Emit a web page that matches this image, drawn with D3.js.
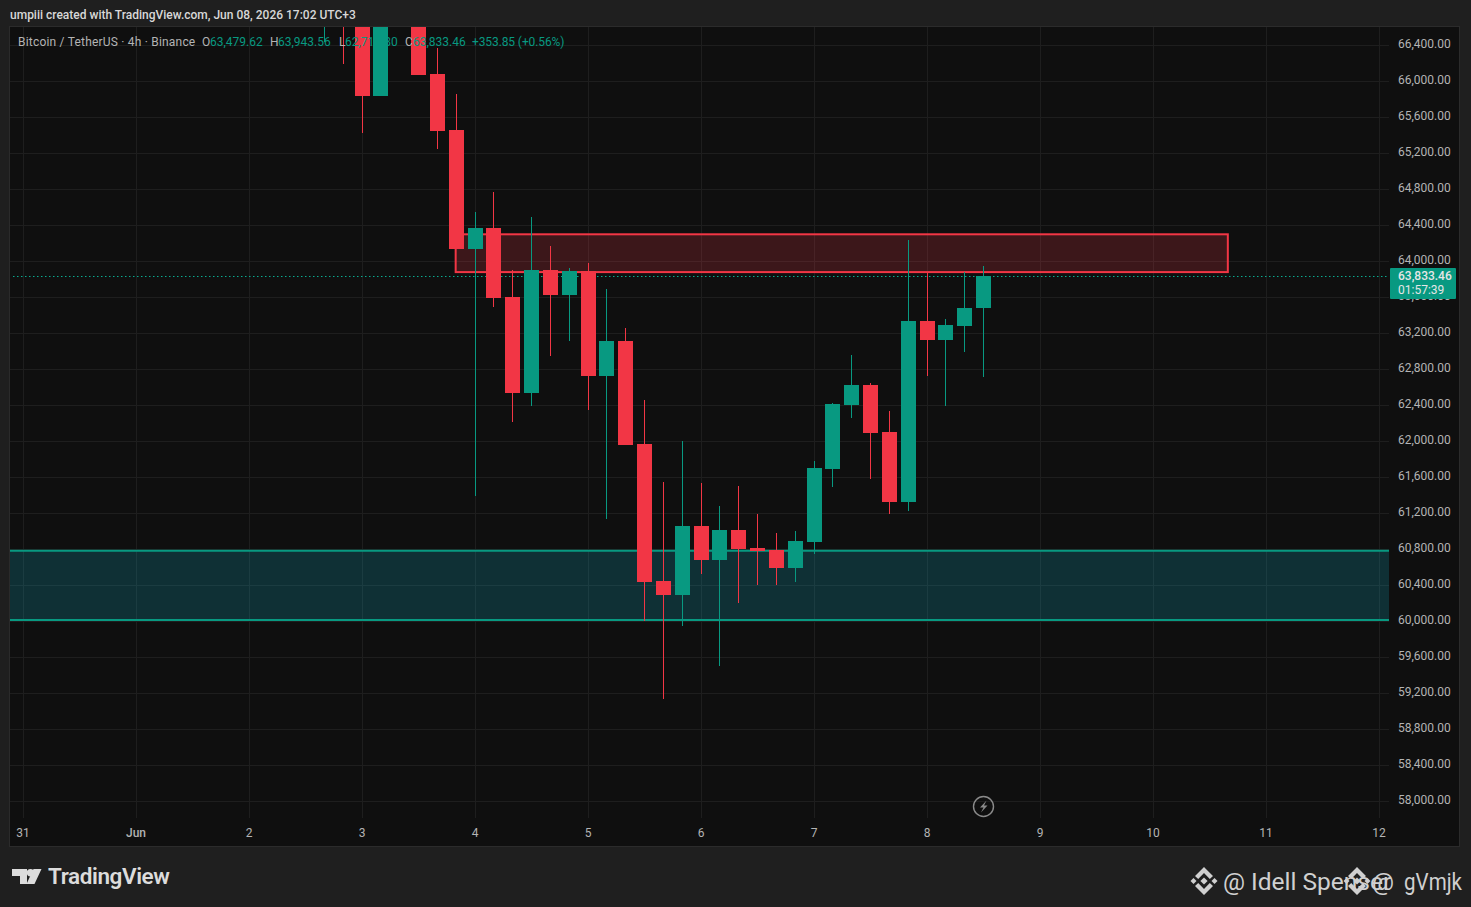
<!DOCTYPE html>
<html>
<head>
<meta charset="utf-8">
<script src="https://cdn.jsdelivr.net/npm/d3@7"></script>
<style>
html, body { margin: 0; padding: 0; background: #1f1f1f; overflow: hidden; }
text { font-family: Roboto, "Open Sans", sans-serif; }
</style>
</head>
<body>
<div id="chart"></div>
<script>
//data
var times = ["2026-06-02 16:00", "2026-06-02 20:00", "2026-06-03 00:00", "2026-06-03 04:00", "2026-06-03 12:00", "2026-06-03 16:00", "2026-06-03 20:00",
    "2026-06-04 00:00", "2026-06-04 04:00", "2026-06-04 08:00", "2026-06-04 12:00", "2026-06-04 16:00", "2026-06-04 20:00",
    "2026-06-05 00:00", "2026-06-05 04:00", "2026-06-05 08:00", "2026-06-05 12:00", "2026-06-05 16:00", "2026-06-05 20:00",
    "2026-06-06 00:00", "2026-06-06 04:00", "2026-06-06 08:00", "2026-06-06 12:00", "2026-06-06 16:00", "2026-06-06 20:00",
    "2026-06-07 00:00", "2026-06-07 04:00", "2026-06-07 08:00", "2026-06-07 12:00", "2026-06-07 16:00", "2026-06-07 20:00",
    "2026-06-08 00:00", "2026-06-08 04:00", "2026-06-08 08:00", "2026-06-08 12:00"];
var opens = [66650, 66800, 66650, 65837, 66750, 66081, 65459,
    64137, 64370, 63603, 62537, 63903, 63626,
    63892, 62726, 63114, 61970, 60448, 60292,
    61059, 60681, 61014, 60814, 60792, 60592,
    60881, 61692, 62403, 62626, 62103, 61326,
    63337, 63126, 63281, 63479.62];
var highs = [66850, 66900, 66700, 66800, 66800, 66370, 65859,
    64548, 64770, 63903, 64492, 64170, 63926,
    63981, 63692, 63259, 62459, 61548, 62003,
    61537, 61281, 61503, 61192, 60981, 61003,
    61781, 62426, 62959, 62648, 62337, 64237,
    63881, 63359, 63881, 63943.56];
var lows = [66437, 66192, 65426, 65837, 66070, 65248, 64137,
    61392, 63492, 62214, 62392, 62948, 63114,
    62348, 61137, 61959, 60003, 59137, 59948,
    60526, 59503, 60203, 60403, 60403, 60437,
    60748, 61492, 62259, 61581, 61192, 61226,
    62726, 62392, 62992, 62718.8];
var closes = [66800, 66650, 65837, 66750, 66070, 65448, 64137,
    64370, 63592, 62537, 63903, 63626, 63892,
    62726, 63114, 61959, 60437, 60292, 61059,
    60681, 61014, 60803, 60781, 60592, 60892,
    61703, 62414, 62626, 62092, 61326, 63337,
    63126, 63292, 63481, 63833.46];

var priceTicks = d3.range(58000, 66401, 400);
var dayTicks = ["2026-05-31 00:00", "2026-06-01 00:00", "2026-06-02 00:00", "2026-06-03 00:00", "2026-06-04 00:00", "2026-06-05 00:00",
    "2026-06-06 00:00", "2026-06-07 00:00", "2026-06-08 00:00", "2026-06-09 00:00", "2026-06-10 00:00", "2026-06-11 00:00", "2026-06-12 00:00"];
var dayLabels = ["31", "Jun", "2", "3", "4", "5", "6", "7", "8", "9", "10", "11", "12"];

var lastPrice = 63833.46;
var resistanceZone = [64300, 63880];
var resistanceTimes = ["2026-06-03 20:00", "2026-06-10 16:00"];
var supportZone = [60785, 60015];

//setup
var width = 1471,
    height = 907,
    up = "#089981",
    down = "#f23645",
    bodyWidth = 15;

var parseTime = d3.timeParse("%Y-%m-%d %H:%M");

var xScale = d3.scaleTime()
    .domain([parseTime(dayTicks[0]), parseTime(dayTicks[12])])
    .range([22.5, 1378.5]);

var yScale = d3.scaleLinear()
    .domain([60000, 66400])
    .range([621.3, 45.3]);

var svg = d3.select("#chart").append("svg")
    .attr("width", width)
    .attr("height", height)
    .style("display", "block");

svg.append("rect").attr("width", width).attr("height", height).attr("fill", "#1f1f1f");

// chart pane
svg.append("rect")
    .attr("x", 10).attr("y", 27)
    .attr("width", 1449).attr("height", 819)
    .attr("fill", "#0f0f0f");
svg.append("rect")
    .attr("x", 9.5).attr("y", 26.5)
    .attr("width", 1450).attr("height", 820)
    .attr("fill", "none")
    .attr("stroke", "#2b2b2b");

svg.append("defs").append("clipPath").attr("id", "pane")
    .append("rect").attr("x", 10).attr("y", 27).attr("width", 1379).attr("height", 819);

// title
svg.append("text")
    .attr("x", 10).attr("y", 19)
    .attr("font-size", 12)
    .attr("font-weight", 500)
    .attr("fill", "#d8d8d8")
    .text("umpiii created with TradingView.com, Jun 08, 2026 17:02 UTC+3");

//grid
var grid = svg.append("g").attr("clip-path", "url(#pane)");
grid.selectAll(".hgrid").data(priceTicks)
    .enter().append("line")
    .attr("x1", 10).attr("x2", 1389)
    .attr("y1", function (d) { return Math.floor(yScale(d)) + 0.5; })
    .attr("y2", function (d) { return Math.floor(yScale(d)) + 0.5; })
    .attr("stroke", "#1e1e1e");
grid.selectAll(".vgrid").data(dayTicks)
    .enter().append("line")
    .attr("y1", 27).attr("y2", 818)
    .attr("x1", function (d) { return Math.round(xScale(parseTime(d))) + 0.5; })
    .attr("x2", function (d) { return Math.round(xScale(parseTime(d))) + 0.5; })
    .attr("stroke", "#1e1e1e");

//zones
var marks = svg.append("g").attr("clip-path", "url(#pane)");

marks.append("rect")
    .attr("x", 10).attr("width", 1379)
    .attr("y", yScale(supportZone[0]))
    .attr("height", yScale(supportZone[1]) - yScale(supportZone[0]))
    .attr("fill", "#0fb4cd").attr("fill-opacity", 0.2);
marks.selectAll(".supportLine").data(supportZone)
    .enter().append("line")
    .attr("x1", 10).attr("x2", 1389)
    .attr("y1", function (d) { return yScale(d); })
    .attr("y2", function (d) { return yScale(d); })
    .attr("stroke", up).attr("stroke-width", 2);

var rx1 = xScale(parseTime(resistanceTimes[0])),
    rx2 = xScale(parseTime(resistanceTimes[1]));
marks.append("rect")
    .attr("x", rx1).attr("width", rx2 - rx1)
    .attr("y", yScale(resistanceZone[0]))
    .attr("height", yScale(resistanceZone[1]) - yScale(resistanceZone[0]))
    .attr("fill", down).attr("fill-opacity", 0.2)
    .attr("stroke", down).attr("stroke-opacity", 1).attr("stroke-width", 2);

// last price line
marks.append("line")
    .attr("x1", 13).attr("x2", 1389)
    .attr("y1", Math.floor(yScale(lastPrice)) + 0.5)
    .attr("y2", Math.floor(yScale(lastPrice)) + 0.5)
    .attr("stroke", "#0aa88e")
    .attr("stroke-width", 1.2)
    .attr("stroke-dasharray", "1.5,2.5");

//candles
var color = function (i) { return closes[i] >= opens[i] ? up : down; };

marks.selectAll(".wick").data(times)
    .enter().append("line")
    .attr("x1", function (d) { return Math.round(xScale(parseTime(d))) + 0.5; })
    .attr("x2", function (d) { return Math.round(xScale(parseTime(d))) + 0.5; })
    .attr("y1", function (d, i) { return yScale(highs[i]); })
    .attr("y2", function (d, i) { return yScale(lows[i]); })
    .attr("stroke", function (d, i) { return color(i); })
    .attr("shape-rendering", "crispEdges");

marks.selectAll(".body").data(times)
    .enter().append("rect")
    .attr("x", function (d) { return Math.round(xScale(parseTime(d))) - 7; })
    .attr("width", bodyWidth)
    .attr("y", function (d, i) { return yScale(Math.max(opens[i], closes[i])); })
    .attr("height", function (d, i) { return Math.max(1, Math.abs(yScale(opens[i]) - yScale(closes[i]))); })
    .attr("fill", function (d, i) { return color(i); })
    .attr("shape-rendering", "crispEdges");

//axes
var yAxis = svg.append("g")
    .attr("transform", "translate(1389,-1.5)")
    .call(d3.axisRight(yScale)
        .tickValues(priceTicks)
        .tickSize(0)
        .tickPadding(9)
        .tickFormat(d3.format(",.2f")));
yAxis.select(".domain").remove();
yAxis.selectAll("text")
    .attr("font-family", "Roboto")
    .attr("font-size", 12)
    .attr("fill", "#b4b4b4");

var xAxis = svg.append("g")
    .attr("transform", "translate(0,828)")
    .call(d3.axisBottom(xScale)
        .tickValues(dayTicks.map(parseTime))
        .tickSize(0)
        .tickPadding(0)
        .tickFormat(function (d, i) { return dayLabels[i]; }));
xAxis.select(".domain").remove();
xAxis.selectAll("text")
    .attr("font-family", "Roboto")
    .attr("font-size", 12)
    .attr("font-weight", function (d, i) { return i == 1 ? 500 : 400; })
    .attr("fill", "#b4b4b4");

// last price label
svg.append("rect")
    .attr("x", 1390).attr("y", 268)
    .attr("width", 66).attr("height", 31)
    .attr("rx", 1)
    .attr("fill", up);
svg.append("text")
    .attr("x", 1398).attr("y", 280)
    .attr("font-size", 12).attr("font-weight", 500)
    .attr("fill", "#e6e6e6")
    .text(d3.format(",.2f")(lastPrice));
svg.append("text")
    .attr("x", 1398).attr("y", 294)
    .attr("font-size", 12)
    .attr("fill", "#e6e6e6")
    .text("01:57:39");

//legend
var legendParts = [
    [18, "Bitcoin / TetherUS · 4h · Binance", "#b4b4b4", 0.2],
    [202, "O", "#b4b4b4", 0],
    [210, "63,479.62", up, 0],
    [270, "H", "#b4b4b4", 0],
    [278, "63,943.56", up, 0],
    [339, "L", "#b4b4b4", 0],
    [345, "62,718.80", up, 0],
    [405, "C", "#b4b4b4", 0],
    [413, "63,833.46", up, 0],
    [472, "+353.85 (+0.56%)", up, -0.1]
];
svg.selectAll(".legend").data(legendParts)
    .enter().append("text")
    .attr("x", function (d) { return d[0]; })
    .attr("y", 46)
    .attr("font-size", 12)
    .attr("letter-spacing", function (d) { return d[3]; })
    .attr("fill", function (d) { return d[2]; })
    .text(function (d) { return d[1]; });

// bolt icon
svg.append("circle")
    .attr("cx", 983.5).attr("cy", 806.5).attr("r", 10)
    .attr("fill", "none").attr("stroke", "#8a8a8a").attr("stroke-width", 1.4);
svg.append("path")
    .attr("d", "M986.5,800.5 L980,807.5 L983.5,807.5 L981,812.5 L987.5,805.5 L984,805.5 Z")
    .attr("fill", "#8a8a8a");

//tradingview logo
svg.append("path")
    .attr("d", "M12,869 H27 V884 H20 V876 H12 Z M41.5,869 L34.5,884 H26.5 L33.5,869 Z")
    .attr("fill", "#dcdcdc");
svg.append("circle")
    .attr("cx", 30.5).attr("cy", 872.8).attr("r", 3.7)
    .attr("fill", "#dcdcdc");
svg.append("text")
    .attr("x", 48).attr("y", 884)
    .attr("font-family", "Inter")
    .attr("font-size", 22.5)
    .attr("font-weight", 600)
    .attr("letter-spacing", -0.4)
    .attr("fill", "#dcdcdc")
    .text("TradingView");

//watermarks
function binanceIcon(cx, cy) {
    var g = svg.append("g")
        .attr("transform", "translate(" + cx + "," + cy + ")")
        .attr("fill", "#d0d0d0");
    g.append("path").attr("d", "M0,-14 L9,-5 L5.8,-2 L0,-8 L-5.8,-2 L-9,-5 Z");
    g.append("path").attr("d", "M0,14 L9,5 L5.8,2 L0,8 L-5.8,2 L-9,5 Z");
    g.append("path").attr("d", "M0,-3.6 L3.6,0 L0,3.6 L-3.6,0 Z");
    g.append("path").attr("d", "M-10.5,-3 L-7.5,0 L-10.5,3 L-13.5,0 Z");
    g.append("path").attr("d", "M10.5,-3 L13.5,0 L10.5,3 L7.5,0 Z");
}
binanceIcon(1204, 881);
binanceIcon(1357, 881);

svg.append("text")
    .attr("x", 1223).attr("y", 890)
    .attr("font-family", "Open Sans")
    .attr("font-size", 24.5)
    .attr("fill", "#d0d0d0")
    .text("@ Idell Spenser");
svg.append("text")
    .attr("x", 1372).attr("y", 890)
    .attr("font-family", "Open Sans")
    .attr("font-size", 24.5)
    .attr("fill", "#d0d0d0")
    .text("@");
svg.append("text")
    .attr("x", 1404).attr("y", 890)
    .attr("font-family", "Open Sans")
    .attr("font-size", 24.5)
    .attr("textLength", 58)
    .attr("lengthAdjust", "spacingAndGlyphs")
    .attr("fill", "#d0d0d0")
    .text("gVmjk");
</script>
</body>
</html>
